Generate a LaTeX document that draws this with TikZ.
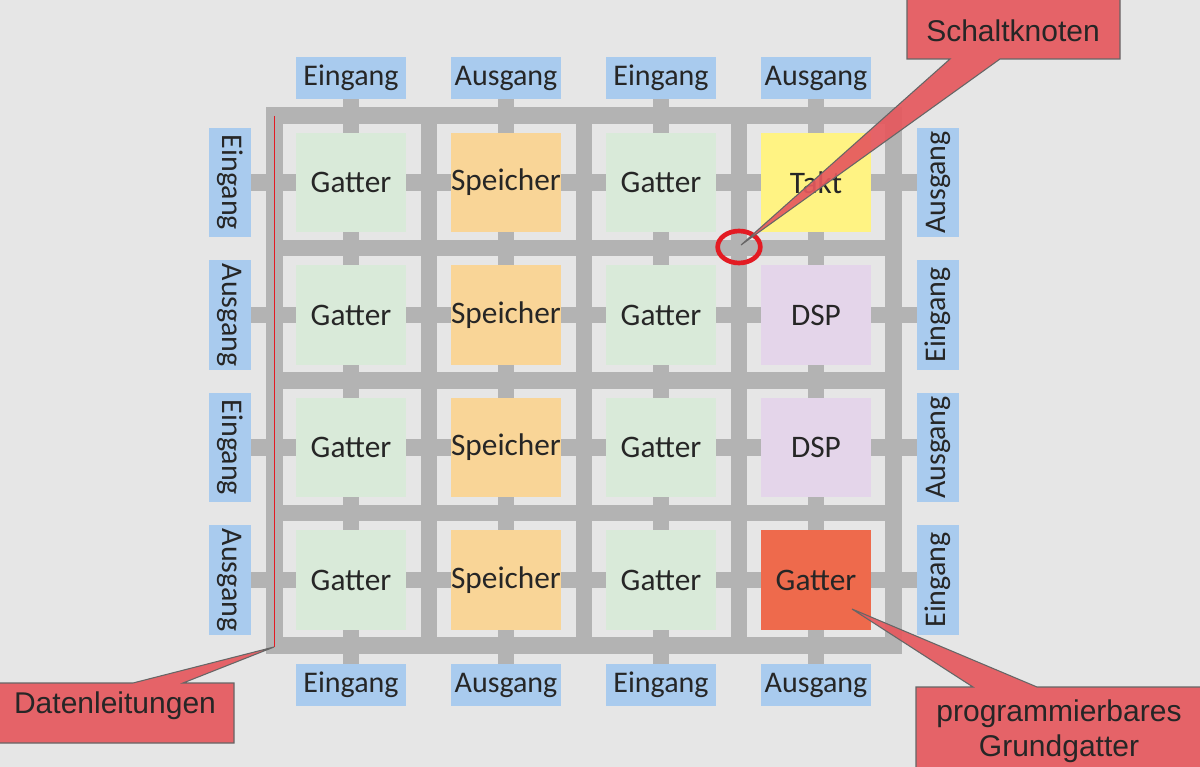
\documentclass[tikz,border=0pt]{standalone}
\usetikzlibrary{shapes.geometric}
\usepackage{fontspec}
\setmainfont{Carlito}
\newfontfamily\arialf{Liberation Sans}
\definecolor{bg}{HTML}{E6E6E6}
\definecolor{wire}{HTML}{B3B3B3}
\definecolor{cgreen}{HTML}{D9EAD9}
\definecolor{corange}{HTML}{F9D597}
\definecolor{cyellow}{HTML}{FFF383}
\definecolor{clav}{HTML}{E4D5EA}
\definecolor{cred}{HTML}{EE6A4C}
\definecolor{cblue}{HTML}{A9CBEE}
\definecolor{callred}{HTML}{E5585E}
\definecolor{ringred}{HTML}{E31B23}
\begin{document}
\begin{tikzpicture}[x=0.75pt,y=-0.75pt,
  wire/.style={draw=wire,line width=12.5pt},
  cell/.style={minimum width=82.5pt,minimum height=74.5pt,inner sep=0pt,font=\fontsize{23.5}{26}\selectfont,text=black!85},
  io/.style={fill=cblue,minimum width=82pt,minimum height=31.5pt,inner sep=0pt,font=\fontsize{22.5}{25}\selectfont,text=black!85},
  callout/.style={fill=callred,fill opacity=0.92,text opacity=1,draw=black!60,line width=0.8pt},
  ctext/.style={font=\arialf\fontsize{22.5}{26}\selectfont,text=black!85,align=center}]
\useasboundingbox[fill=bg] (0,0) rectangle (1200,767);
% wiring stubs to IO
\foreach \x in {351,506,661,816}{
  \draw[wire] (\x,95) -- (\x,668);}
\foreach \y in {182.5,315,447.5,580}{
  \draw[wire] (248,\y) -- (920,\y);}
% grid
\foreach \x in {274.5,429,584,739,893.5}{\draw[wire,line cap=rect] (\x,115.5) -- (\x,645.5);}
\foreach \y in {115.5,248,380.5,513,645.5}{\draw[wire,line cap=rect] (274.5,\y) -- (893.5,\y);}
% cells
\foreach \x/\c in {351/1,506/2,661/3,816/4}{
  \foreach \y/\r in {182.5/1,315/2,447.5/3,580/4}{
    \coordinate (p\r\c) at (\x,\y);}}
\node[cell,fill=cgreen] (g11) at (p11) {Gatter};
\node[cell,fill=corange] (s12) at (p12) {Speicher};
\node[cell,fill=cgreen] (g13) at (p13) {Gatter};
\node[cell,fill=cyellow] (t14) at (p14) {Takt};
\node[cell,fill=cgreen] (g21) at (p21) {Gatter};
\node[cell,fill=corange] (s22) at (p22) {Speicher};
\node[cell,fill=cgreen] (g23) at (p23) {Gatter};
\node[cell,fill=clav] (d24) at (p24) {DSP};
\node[cell,fill=cgreen] (g31) at (p31) {Gatter};
\node[cell,fill=corange] (s32) at (p32) {Speicher};
\node[cell,fill=cgreen] (g33) at (p33) {Gatter};
\node[cell,fill=clav] (d34) at (p34) {DSP};
\node[cell,fill=cgreen] (g41) at (p41) {Gatter};
\node[cell,fill=corange] (s42) at (p42) {Speicher};
\node[cell,fill=cgreen] (g43) at (p43) {Gatter};
\node[cell,fill=cred] (g44) at (p44) {Gatter};
% IO labels
\foreach \x/\t/\n in {351/Eingang/1,506/Ausgang/2,661/Eingang/3,816/Ausgang/4}{
  \node[io] (top\n) at (\x,78) {\t};
  \node[io] (bot\n) at (\x,685) {\t};}
\foreach \y/\t/\n in {182.5/Eingang/1,315/Ausgang/2,447.5/Eingang/3,580/Ausgang/4}{
  \node[io,rotate=-90] (lft\n) at (230,\y) {\t};}
\foreach \y/\t/\n in {182.5/Ausgang/1,315/Eingang/2,447.5/Ausgang/3,580/Eingang/4}{
  \node[io,rotate=90] (rgt\n) at (938,\y) {\t};}
% data line
\draw[ringred,line width=1.2pt] (274.5,116) -- (274.5,647);
% switch node ring
\node[draw=ringred,line width=3.5pt,ellipse,minimum width=32pt,minimum height=24pt,inner sep=0pt] (ring) at (739,247) {};
\coordinate (tipA) at (741,245);
\coordinate (tipB) at (274,647);
\coordinate (tipC) at (852,609);
% callouts
\draw[callout] (907,-2) -- (1120,-2) -- (1120,59) -- (1000,59) -- (tipA) -- (950,59) -- (907,59) -- cycle;
\node[ctext] (schalt) at (1013,31) {Schaltknoten};
\draw[callout] (-2,683) -- (133,683) -- (tipB) -- (183,683) -- (234,683) -- (234,743) -- (-2,743) -- cycle;
\node[ctext] (daten) at (115,706) {Datenleitungen};
\draw[callout] (916,687) -- (973,687) -- (tipC) -- (1037,687) -- (1202,687) -- (1202,769) -- (916,769) -- cycle;
\node[ctext,font=\arialf\fontsize{22.5}{26}\selectfont] (prog) at (1059,731) {programmierbares\\Grundgatter};
\end{tikzpicture}
\end{document}
